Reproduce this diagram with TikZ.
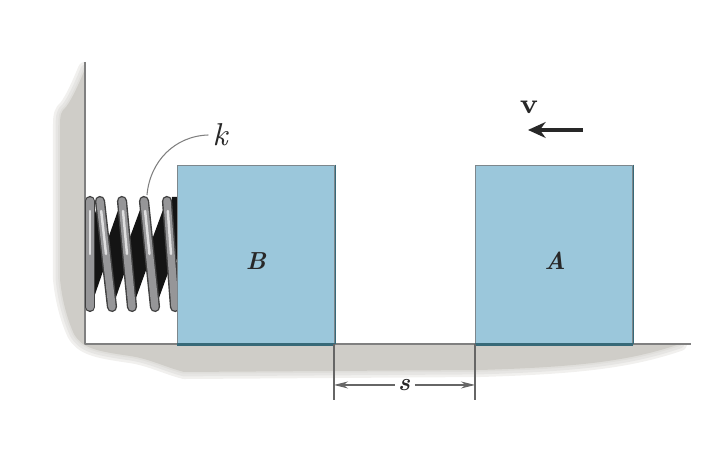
\documentclass[tikz,border=0pt]{standalone}
\usetikzlibrary{arrows.meta,positioning}
\definecolor{blockblue}{RGB}{155,199,219}
\definecolor{blockedge}{RGB}{125,135,140}
\definecolor{blockdark}{RGB}{55,105,120}
\definecolor{groundgray}{RGB}{207,205,200}
\definecolor{coilgray}{RGB}{150,150,152}
\definecolor{inkgray}{RGB}{40,40,40}
\tikzset{
	block/.style={draw=blockedge, line width=0.5pt, fill=blockblue, minimum width=1.57cm, minimum height=1.78cm, inner sep=0pt},
	blocklabel/.style={font=\scriptsize\itshape\bfseries, text=inkgray, inner sep=1pt},
	dimline/.style={draw=black!60, line width=0.3pt},
	coil/.style={line cap=round, line join=round}
}
\def\groundpath{(0.85,3.82) .. controls (0.78,3.65) and (0.72,3.52) .. (0.66,3.44) .. controls (0.61,3.40) and (0.60,3.36) .. (0.60,3.25) -- (0.60,1.72) .. controls (0.62,1.50) and (0.68,1.30) .. (0.74,1.17) .. controls (0.82,1.03) and (0.95,1.00) .. (1.30,0.95) .. controls (1.50,0.92) and (1.65,0.84) .. (1.84,0.79) -- (4.80,0.81) .. controls (5.80,0.84) and (6.30,0.90) .. (6.80,1.07) -- (0.85,1.07) -- cycle}
\begin{document}
\begin{tikzpicture}[line join=round, >=Stealth]
	\useasboundingbox (0,0) rectangle (7.15,4.51);
	% Nen va tuong
	\foreach \w in {4,2.5,1}{
		\draw[groundgray, opacity=0.3, line width=\w pt] \groundpath;
	}
	\fill[groundgray] \groundpath;
	\fill[white] (0.85,1.07) rectangle (7.15,4.51);
	\draw[black!50, line width=0.7pt] (0.85,3.89)--(0.85,1.07)--(6.91,1.07);
	% Lo xo
	\fill[black!92] (1.72,2.54)--(1.77,2.54)--(1.77,1.9)--(1.70,2.1)--cycle;
	\begin{scope}
		\clip (0.88,1.3) rectangle (1.78,2.6);
		\foreach \xa/\xb in {0.90/1.00,1.12/1.22,1.32/1.44,1.55/1.67}{
			\fill[black!92] (\xa,1.42) -- ({0.5*(\xa+\xb)-0.15},1.95) -- (\xb,2.52) -- ({0.5*(\xa+\xb)+0.15},2.0) -- cycle;
		}
	\end{scope}
	\foreach \xa/\xb in {0.90/0.90,1.00/1.12,1.22/1.32,1.44/1.55,1.67/1.75}{
		\draw[coil, black!75, line width=2.9pt] (\xa,2.50)--(\xb,1.44);
		\draw[coil, coilgray, line width=2.1pt] (\xa,2.50)--(\xb,1.44);
		\draw[coil, white!70!coilgray, line width=0.7pt] ({\xa+0.1*(\xb-\xa)},2.40)--({\xa+0.5*(\xb-\xa)},1.97);
	}
	% Khoi
	\node[block] (B) at (2.56,1.965) {};
	\node[block] (A) at (5.54,1.965) {};
	\foreach \n in {A,B}{
		\draw[blockdark, line width=0.45pt] (\n.north east)--(\n.south east);
		\draw[blockdark, line width=0.8pt] (\n.south east)--(\n.south west);
	}
	\node[blocklabel] (Blabel) at (2.56,1.90) {B};
	\node[blocklabel] (Alabel) at (5.55,1.90) {A};
	% Nhan
	\coordinate (coiltop) at (1.47,2.56);
	\node[font=\small\itshape, text=inkgray, inner sep=1pt] (k) at (2.2,3.16) {k};
	\draw[black!50, line width=0.3pt] (coiltop) .. controls (1.50,2.90) and (1.75,3.15) .. (k.west);
	\node[font=\footnotesize\bfseries, text=inkgray] (v) at (5.29,3.44) {v};
	\coordinate (vtail) at (5.83,3.21);
	\coordinate (vtip) at (5.28,3.21);
	\draw[-{Stealth[length=5pt,width=4.5pt]}, inkgray, line width=1pt] (vtail)--(vtip);
	% Kich thuoc s
	\coordinate (sa) at (3.34,1.07);
	\coordinate (sb) at (4.75,1.07);
	\coordinate (sc) at (3.34,0.51);
	\coordinate (sd) at (4.75,0.51);
	\draw[dimline] (sa)--(sc) (sb)--(sd);
	\node[blocklabel] (s) at (4.04,0.66) {s};
	\coordinate (sl) at (3.34,0.66);
	\coordinate (sr) at (4.75,0.66);
	\draw[dimline, -{Stealth[length=4pt,width=2pt]}] (3.95,0.66)--(sl);
	\draw[dimline, -{Stealth[length=4pt,width=2pt]}] (4.15,0.66)--(sr);
\end{tikzpicture}
\end{document}
